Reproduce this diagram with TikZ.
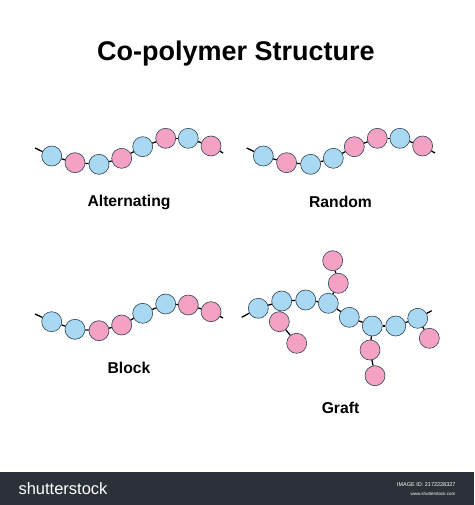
\documentclass[tikz,border=0pt]{standalone}
\usepackage{fontspec}
\setmainfont{Liberation Sans}
\usetikzlibrary{positioning}
\definecolor{monoblue}{HTML}{A9D8F2}
\definecolor{monopink}{HTML}{F4A1C3}
\definecolor{ringline}{HTML}{2E4656}
\definecolor{barcol}{HTML}{2C3038}
\tikzset{
  unit/.style={circle, draw=ringline, line width=0.6pt, minimum size=20pt, inner sep=0pt},
  bu/.style={unit, fill=monoblue},
  pu/.style={unit, fill=monopink},
  bond/.style={line width=1.3pt, black},
  caption/.style={font=\bfseries\fontsize{15.7}{15.7}\selectfont}
}
\begin{document}
\begin{tikzpicture}[x=1pt,y=-1pt]
				\useasboundingbox (0,0) rectangle (474,505);
				\fill[white] (0,0) rectangle (474,505);
				
				\node[font=\bfseries\fontsize{27}{27}\selectfont] (title) at (236,54) {Co-polymer Structure};
				
				% alternating
				\foreach \dx/\dy/\s [count=\i] in {0/0/bu, 23.3/6.7/pu, 47.3/8.3/bu, 70/2.3/pu, 91/-9.3/bu, 114/-17.7/pu, 136.6/-17.7/bu, 159.3/-10/pu}
					\node[\s] (a\i) at (51.7+\dx,156+\dy) {};
				\coordinate (a0) at (35,148);
				\coordinate (a9) at (223,153);
				
				% random
				\foreach \dx/\dy/\s [count=\i] in {0/0/bu, 23.3/6.7/pu, 47.3/8.3/bu, 70/2.3/bu, 91/-9.3/pu, 114/-17.7/pu, 136.6/-17.7/bu, 159.3/-10/pu}
					\node[\s] (r\i) at (263.3+\dx,156+\dy) {};
				\coordinate (r0) at (246.7,148);
				\coordinate (r9) at (435,153);
				
				% block
				\foreach \dx/\dy/\s [count=\i] in {0/0/bu, 23.3/7.6/bu, 47.3/9/pu, 70/3.3/pu, 91/-8.4/bu, 114/-17.7/bu, 136.6/-16.7/pu, 159.3/-10/pu}
					\node[\s] (b\i) at (51.7+\dx,321.7+\dy) {};
				\coordinate (b0) at (35,314);
				\coordinate (b9) at (223,318);
				
				\foreach \chn in {a,r,b}{
					\foreach \i in {0,...,8}{
						\pgfmathtruncatemacro{\j}{\i+1}
						\draw[bond] (\chn\i) -- (\chn\j);
					}
				}
				
				% graft backbone
				\foreach \x/\y [count=\i] in {258.3/308.3, 281.7/301, 305.7/300, 328.3/303.3, 349.3/317.3, 372.3/326, 395.7/326, 417.7/318.3}
					\node[bu] (g\i) at (\x,\y) {};
				\coordinate (g0) at (241.7,317.3);
				\coordinate (g9) at (431.7,310.7);
				\foreach \i in {0,...,8}{
					\pgfmathtruncatemacro{\j}{\i+1}
					\draw[bond] (g\i) -- (g\j);
				}
				
				% graft side chains
				\node[pu] (s1) at (279.3,321.7) {};
				\node[pu] (s2) at (296.7,343.3) {};
				\node[pu] (s3) at (338.3,283.3) {};
				\node[pu] (s4) at (332.7,260.7) {};
				\node[pu] (s5) at (370,350) {};
				\node[pu] (s6) at (375,375.7) {};
				\node[pu] (s7) at (429.3,338.3) {};
				\draw[bond] (g2) -- (s1);
				\draw[bond] (s1) -- (s2);
				\draw[bond] (g4) -- (s3);
				\draw[bond] (s3) -- (s4);
				\draw[bond] (g6) -- (s5);
				\draw[bond] (s5) -- (s6);
				\draw[bond] (g8) -- (s7);
				
				\node[caption] (alt) at (129,202) {Alternating};
				\node[caption] (rnd) at (340.5,202) {Random};
				\node[caption] (blk) at (129,368) {Block};
				\node[caption] (grf) at (340.5,408) {Graft};
				
				% footer bar
				\fill[barcol] (0,472) rectangle (474,505);
				\node[white, anchor=west, font=\fontsize{16.5}{16.5}\selectfont] (brand) at (15,489) {shutterstock};
				\node[white, anchor=east, font=\fontsize{5.5}{5.5}\selectfont] (imgid) at (459,485) {IMAGE ID: 2172228327};
				\node[white, anchor=east, font=\fontsize{4.5}{4.5}\selectfont] (site) at (459,494) {www.shutterstock.com};
			\end{tikzpicture}
\end{document}
